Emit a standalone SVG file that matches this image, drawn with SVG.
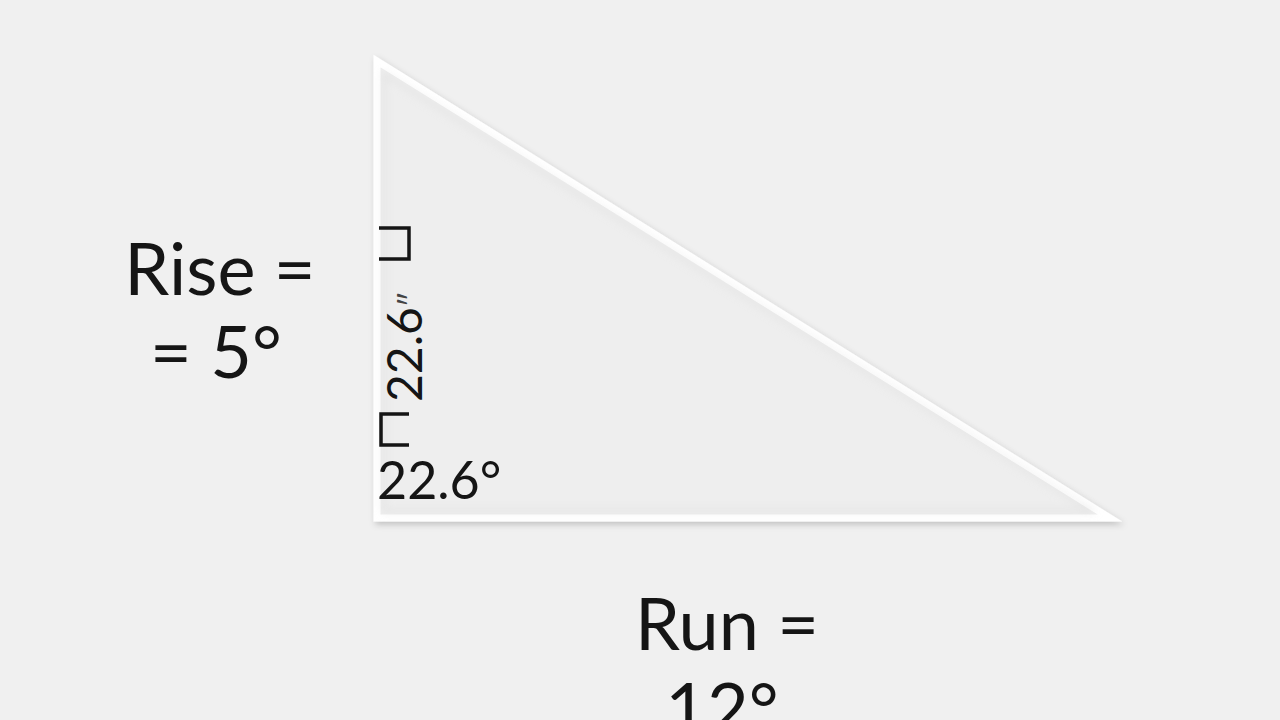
<svg xmlns="http://www.w3.org/2000/svg" width="1280" height="720" viewBox="0 0 1280 720">
<defs>
<style>
.lbl{font-family:Lato,"Open Sans","Liberation Sans",sans-serif;fill:#151515}
.big{font-size:72px}
.mid{font-size:52px}
.mark{fill:none;stroke:#151515;stroke-width:3.5}
</style>
<filter id="sh" x="-10%" y="-10%" width="120%" height="120%">
<feDropShadow dx="2" dy="3" stdDeviation="3" flood-color="#000" flood-opacity="0.2"/>
</filter>
<filter id="ish" x="-10%" y="-10%" width="120%" height="120%">
<feGaussianBlur stdDeviation="4"/>
</filter>
</defs>
<rect width="1280" height="720" fill="#f0f0f0"/>
<g id="triangle">
<polygon points="377,61 377,518 1110,518" fill="#eeeeee" stroke="#ffffff" stroke-width="7" stroke-linejoin="miter" filter="url(#sh)"/>
<polygon points="384,74 384,511 1092,511" fill="none" stroke="#d4d4d4" stroke-width="3" opacity="0.55" filter="url(#ish)"/>
</g>
<g id="rise-label">
<text class="lbl big" x="220" y="295" text-anchor="middle">Rise =</text>
<text class="lbl big" x="216" y="378" text-anchor="middle">= 5°</text>
</g>
<g id="run-label">
<text class="lbl big" x="727" y="650" text-anchor="middle">Run =</text>
<text class="lbl big" x="722" y="735" text-anchor="middle">12°</text>
</g>
<g id="angle-labels">
<text class="lbl mid" x="377" y="499">22.6°</text>
<text class="lbl" font-size="48" transform="translate(422,402) rotate(-90)">22.6<tspan font-size="30" fill="#444">″</tspan></text>
<path class="mark" d="M379,228 H409 V259 H379"/>
<path class="mark" d="M409,414 H381 V445 H409"/>
</g>
<g id="connectors"/>
</svg>
